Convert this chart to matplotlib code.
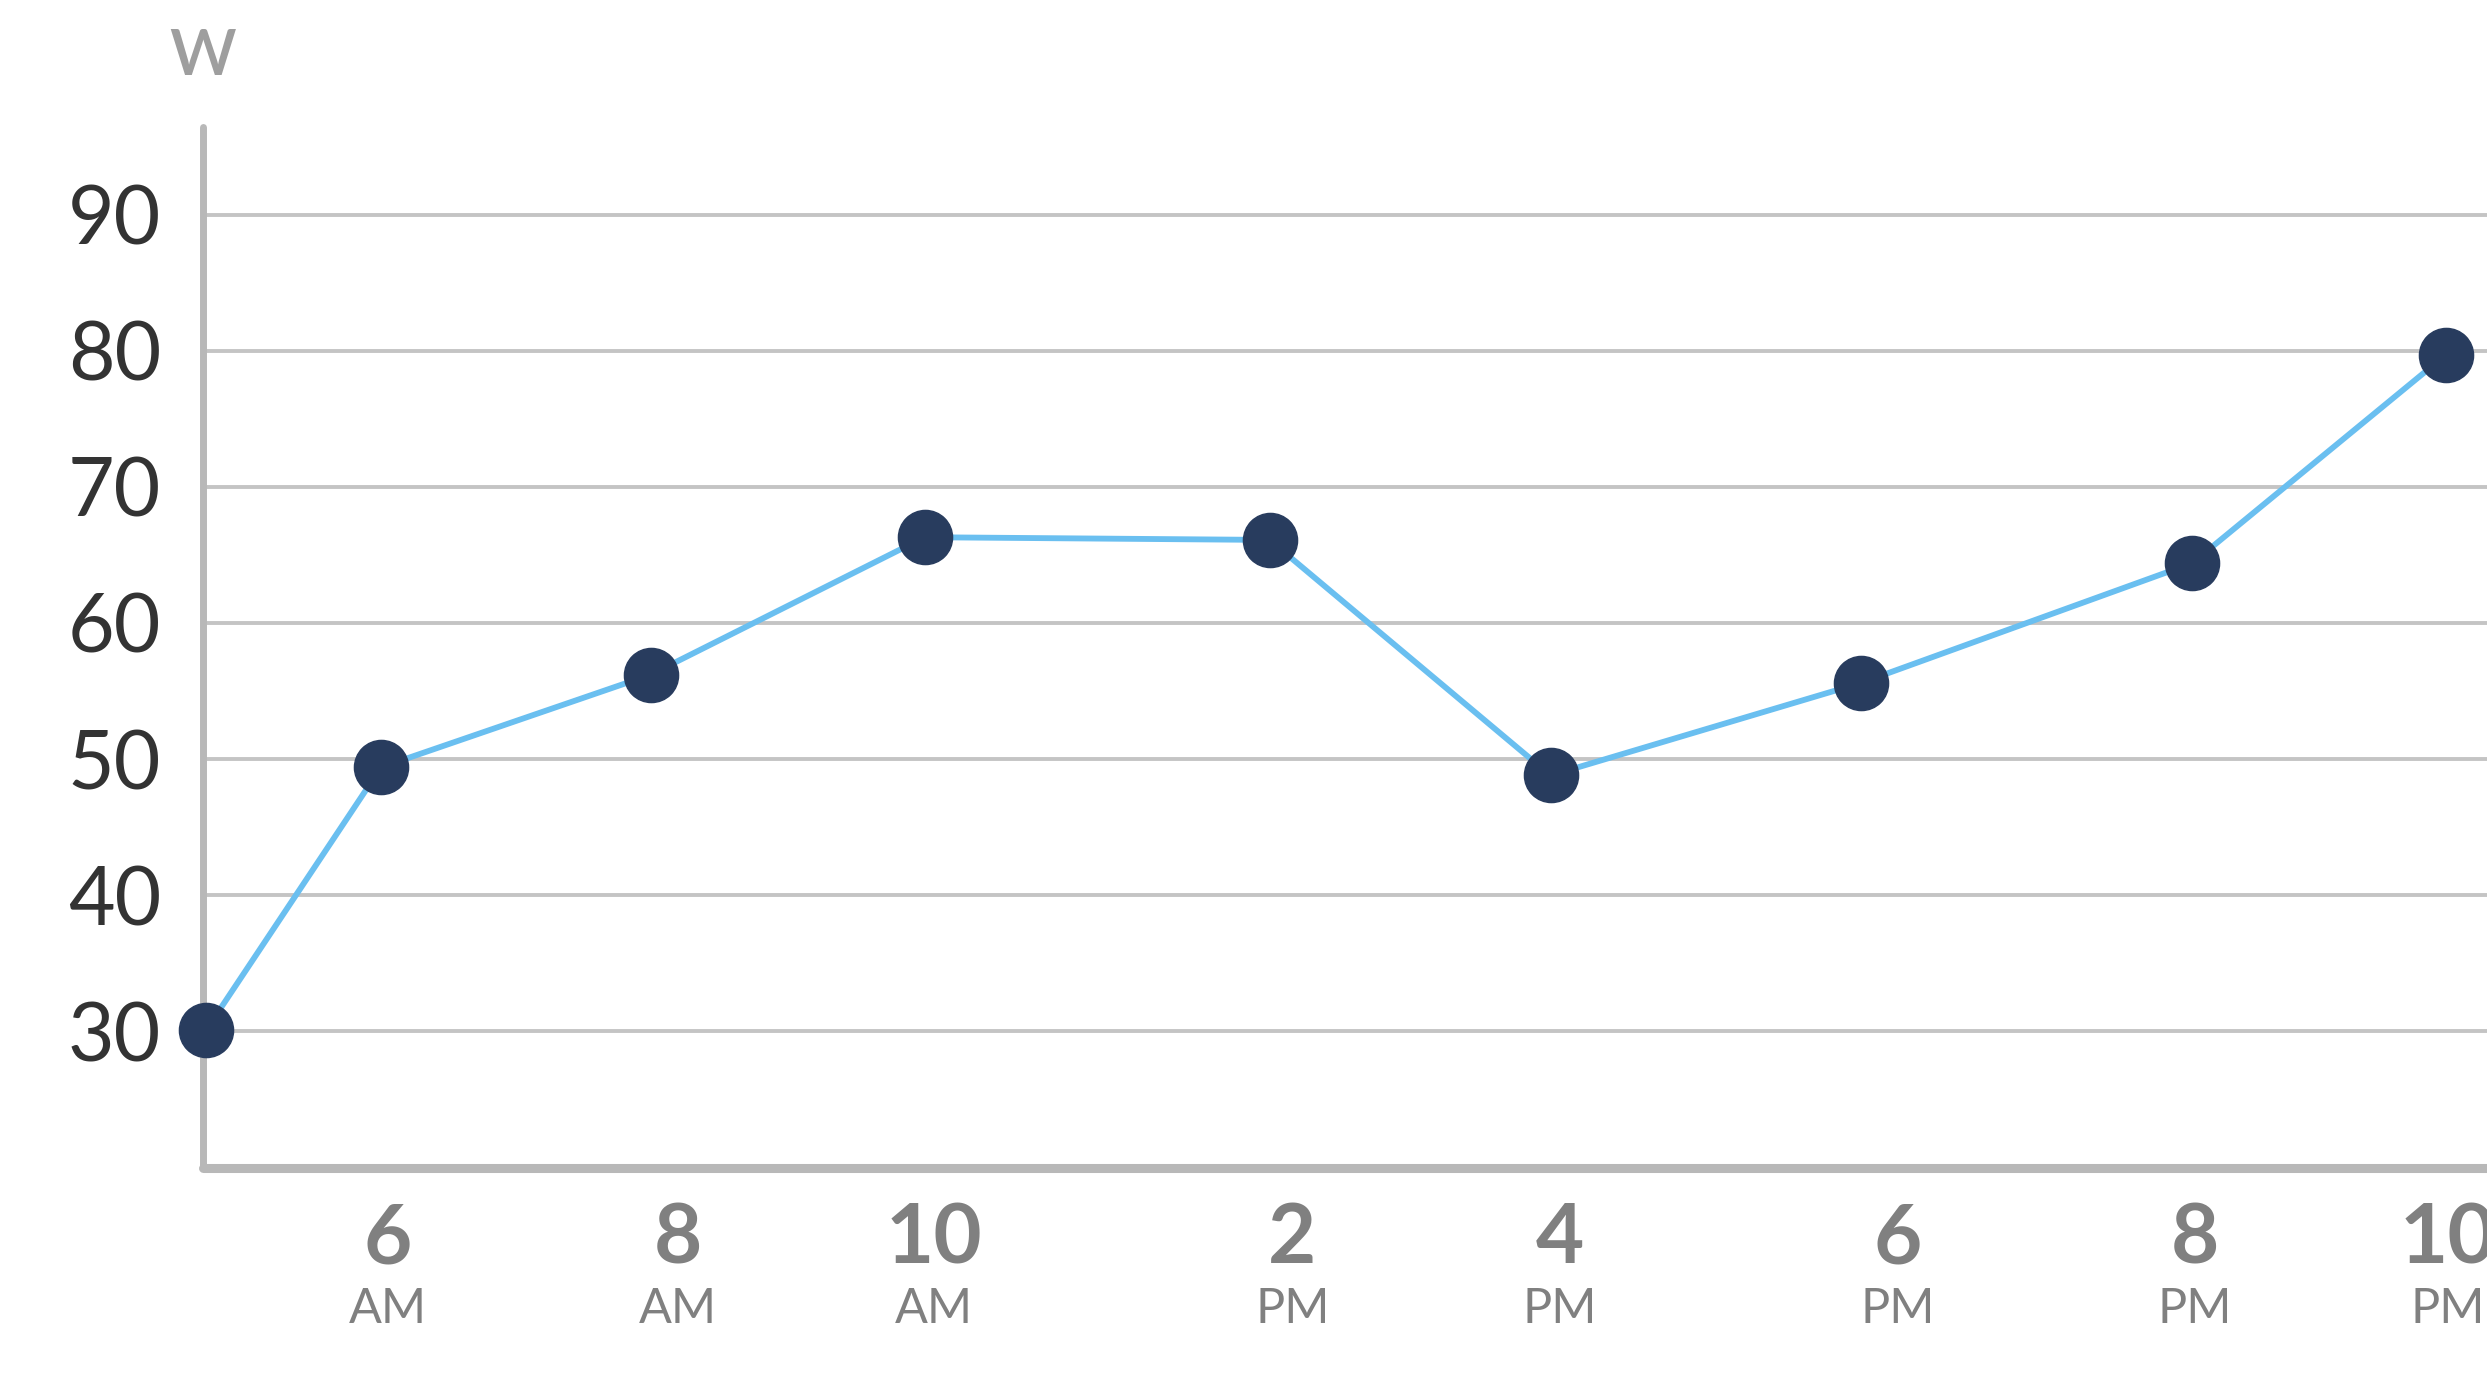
import matplotlib.pyplot as plt
import matplotlib.transforms as mtransforms

plt.rcParams['font.family'] = ['Lato', 'DejaVu Sans']

# positions along the time axis (0 = y axis, 100 = right edge)
point_x = [0.14, 7.8, 19.6, 31.6, 46.7, 59.0, 72.6, 87.1, 98.2]
watts = [30.1, 49.4, 56.2, 66.3, 66.1, 48.8, 55.6, 64.4, 79.7]

label_x = [8.1, 20.8, 32.0, 47.7, 59.4, 74.2, 87.2, 98.3]
label_hours = ['6', '8', '10', '2', '4', '6', '8', '10']
label_period = ['AM', 'AM', 'AM', 'PM', 'PM', 'PM', 'PM', 'PM']

y_ticks = [30, 40, 50, 60, 70, 80, 90]

fig = plt.figure(figsize=(24.87, 13.85), dpi=100)
ax = fig.add_axes([0.0816, 0.157, 0.9184, 0.751])

ax.set_xlim(0, 100)
ax.set_ylim(20, 96.4)

# grid
for v in y_ticks:
    ax.axhline(v, color='#c4c4c4', lw=2.8, zorder=1)

ax.plot(point_x, watts, color='#6abff0', lw=4.2, zorder=3, clip_on=False)
ax.plot(point_x, watts, 'o', color='#283c5e', ms=39, zorder=4, clip_on=False)

for s in ['top', 'right']:
    ax.spines[s].set_visible(False)
ax.spines['left'].set_color('#b8b8b8')
ax.spines['left'].set_linewidth(5)
ax.spines['bottom'].set_color('#b8b8b8')
ax.spines['bottom'].set_linewidth(6.5)
ax.spines['left'].set_capstyle('round')
ax.spines['bottom'].set_capstyle('round')

ax.set_yticks(y_ticks)
ax.set_yticklabels([str(v) for v in y_ticks])
ax.tick_params(axis='y', length=0, pad=30, labelsize=58, labelcolor='#333333')
ax.set_xticks([])

trans = mtransforms.blended_transform_factory(ax.transData, fig.transFigure)
for x, h, p in zip(label_x, label_hours, label_period):
    ax.text(x, 0.105, h, transform=trans, ha='center', va='center',
            fontsize=60, fontweight='bold', color='#808080', clip_on=False)
    ax.text(x, 0.055, p, transform=trans, ha='center', va='center',
            fontsize=35, color='#808080', clip_on=False)

fig.text(0.0816, 0.959, 'W', ha='center', va='center', fontsize=46,
         fontweight='semibold', color='#9e9e9e')

fig.savefig('out.png', dpi=100)
